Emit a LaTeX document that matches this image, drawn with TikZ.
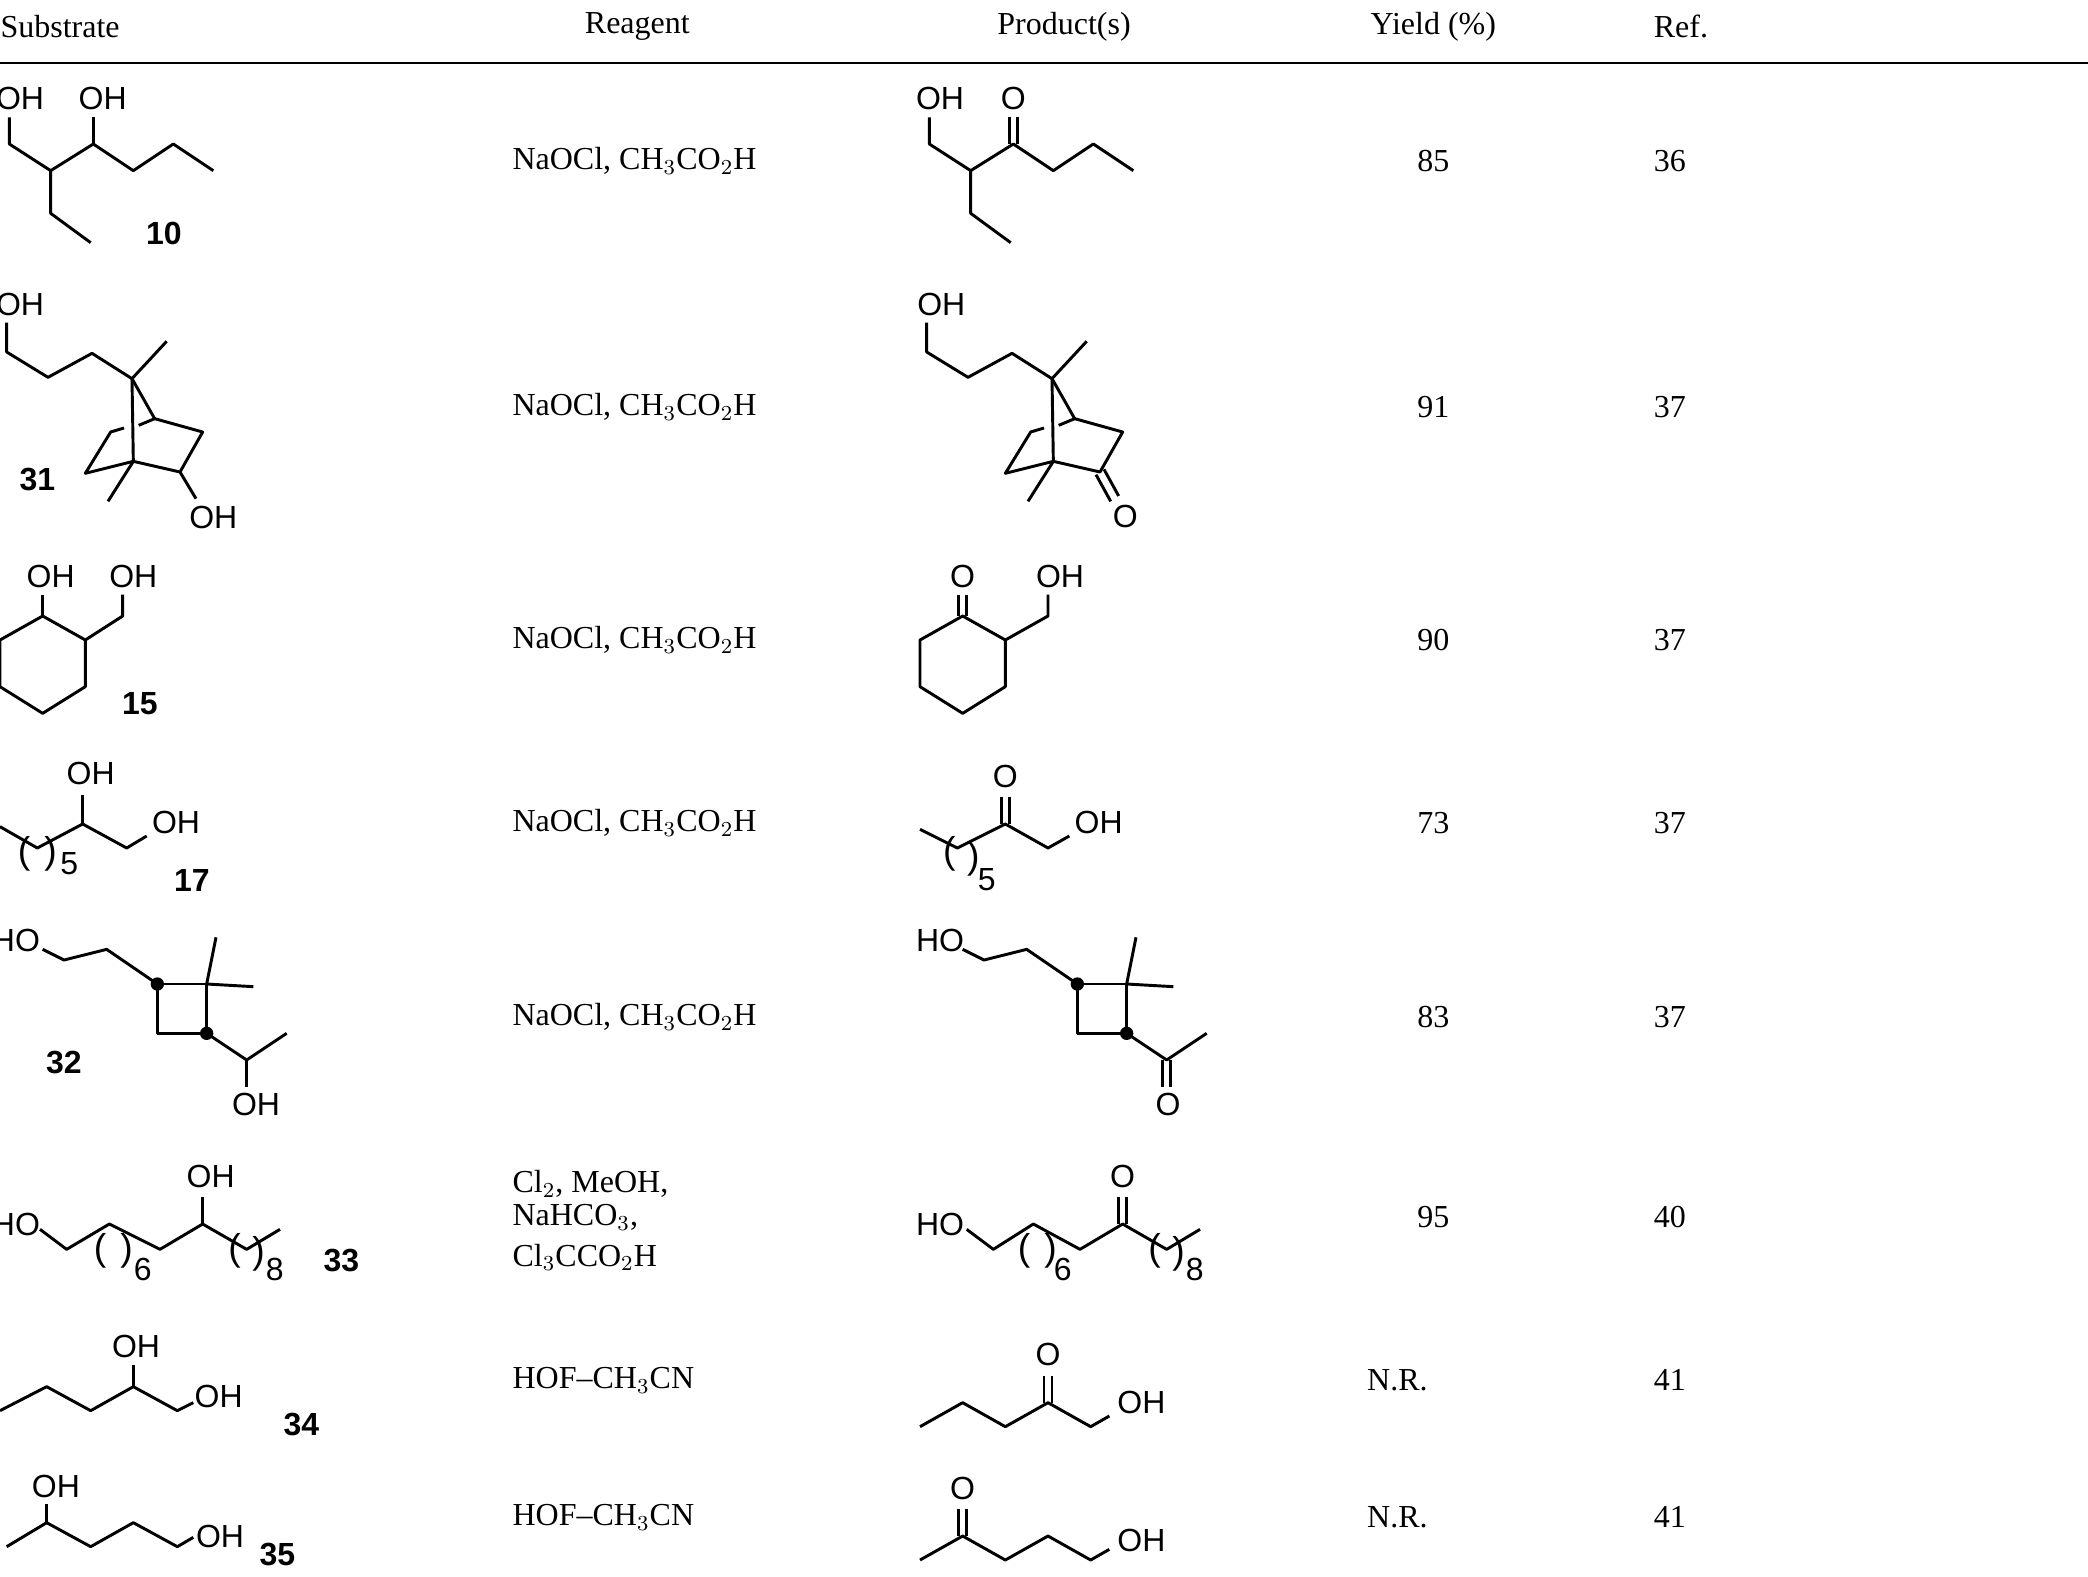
\documentclass[tikz,border=0pt]{standalone}
\usepackage{fontspec}
\setmainfont{Liberation Serif}
\newfontfamily\chem{Liberation Sans}
\begin{document}
\begin{tikzpicture}[x=0.5pt,y=-0.5pt,
  bd/.style={line width=1.1pt,line join=round},
  lab/.style={font=\chem\fontsize{12}{14}\selectfont,inner sep=0pt},
  num/.style={font=\chem\bfseries\fontsize{12}{14}\selectfont,inner sep=0pt},
  txt/.style={font=\fontsize{12}{14}\selectfont,inner sep=0pt},
  rg/.style={txt,anchor=west},
  par/.style={font=\chem\fontsize{14}{14}\selectfont,inner sep=0pt}]
\useasboundingbox (0,0) rectangle (1566,1182);
% header
\node[txt,anchor=west] (h1) at (0,20) {Substrate};
\node[txt] (h2) at (478,20) {Reagent};
\node[txt] (h3) at (798,20) {Product(s)};
\node[txt] (h4) at (1075,20) {Yield (\%)};
\node[txt,anchor=west] (h5) at (1240,20) {Ref.};
\draw[line width=0.8pt] (0,47) -- (1566,47);
% reagents, yields, refs
\foreach \y/\r/\yl/\rf in {121/{NaOCl, CH$_3$CO$_2$H}/85/36, 305/{NaOCl, CH$_3$CO$_2$H}/91/37, 480/{NaOCl, CH$_3$CO$_2$H}/90/37, 617/{NaOCl, CH$_3$CO$_2$H}/73/37, 763/{NaOCl, CH$_3$CO$_2$H}/83/37, 913/{}/95/40}{
  \node[rg] at (384,\y) {\r};
  \node[txt] at (1075,\y) {\yl};
  \node[rg] at (1240,\y) {\rf};}
\node[rg] (r6a) at (384,888) {Cl$_2$, MeOH,};
\node[rg] (r6b) at (384,913) {NaHCO$_3$,};
\node[rg] (r6c) at (384,943) {Cl$_3$CCO$_2$H};
\node[rg] (r7) at (384,1035) {HOF--CH$_3$CN};
\node[rg] (y7) at (1025,1035) {N.R.};
\node[rg] (f7) at (1240,1035) {41};
\node[rg] (r8) at (384,1138) {HOF--CH$_3$CN};
\node[rg] (y8) at (1025,1138) {N.R.};
\node[rg] (f8) at (1240,1138) {41};

% ===== Row 1 =====
\begin{scope}
\draw[bd] (7,88)--(7,108)--(38,128)--(70,108)--(100,128)--(130,108)--(160,128);
\draw[bd] (70,108)--(70,88); \draw[bd] (38,128)--(38,160)--(68,182);
\node[lab] at (15,74) {OH}; \node[lab] at (77,74) {OH};
\node[num] at (123,175) {10};
\end{scope}
\begin{scope}[xshift=345pt]
\draw[bd] (7,88)--(7,108)--(38,128)--(70,108)--(100,128)--(130,108)--(160,128);
\draw[bd] (67,108)--(67,88); \draw[bd] (73,108)--(73,88); \draw[bd] (38,128)--(38,160)--(68,182);
\node[lab] at (15,74) {OH}; \node[lab] at (70,74) {O};
\end{scope}

% ===== Row 2 =====
\begin{scope}
\draw[bd] (5,242)--(5,264)--(36,283)--(69,265)--(99,284)--(125,256);
\draw[bd] (99,284)--(100,346)--(81,376);
\draw[bd] (99,284)--(116,314)--(152,324)--(135,354)--(100,346);
\draw[bd] (100,346)--(64,355)--(83,324)--(93,321);
\draw[bd] (104,319)--(116,314);
\draw[bd] (135,354)--(147,374);
\node[lab] at (15,228) {OH}; \node[lab] at (160,388) {OH};
\node[num] at (28,360) {31};
\end{scope}
\begin{scope}[xshift=345pt]
\draw[bd] (5,242)--(5,264)--(36,283)--(69,265)--(99,284)--(125,256);
\draw[bd] (99,284)--(100,346)--(81,376);
\draw[bd] (99,284)--(116,314)--(152,324)--(135,354)--(100,346);
\draw[bd] (100,346)--(64,355)--(83,324)--(93,321);
\draw[bd] (104,319)--(116,314);
\draw[bd] (132,356)--(143,376); \draw[bd] (138,352)--(149,372);
\node[lab] at (16,228) {OH}; \node[lab] at (154,387) {O};
\end{scope}

% ===== Row 3 =====
\begin{scope}
\draw[bd] (0,480)--(32,462)--(64,480)--(64,515)--(32,535)--(0,515)--cycle;
\draw[bd] (32,462)--(32,446); \draw[bd] (64,480)--(92,462)--(92,446);
\node[lab] at (38,432) {OH}; \node[lab] at (100,432) {OH};
\node[num] at (105,528) {15};
\end{scope}
\begin{scope}[xshift=345pt]
\draw[bd] (0,480)--(32,462)--(64,480)--(64,515)--(32,535)--(0,515)--cycle;
\draw[bd] (29,462)--(29,446); \draw[bd] (35,462)--(35,446); \draw[bd] (64,480)--(96,462)--(96,446);
\node[lab] at (32,432) {O}; \node[lab] at (105,432) {OH};
\end{scope}

% ===== Row 4 =====
\draw[bd] (0,620)--(28,636)--(62,618)--(95,636)--(110,627);
\draw[bd] (62,618)--(62,596);
\node[lab] at (68,580) {OH}; \node[lab] at (132,617) {OH};
\node[par] at (18,640) {(}; \node[par] at (38,640) {)};
\node[lab] at (52,648) {5}; \node[num] at (144,660) {17};
\draw[bd] (690,622)--(718,636)--(754,618)--(786,636)--(802,627);
\draw[bd] (751,618)--(751,598); \draw[bd] (757,618)--(757,598);
\node[lab] at (754,582) {O}; \node[lab] at (824,617) {OH};
\node[par] at (712,640) {(}; \node[par] at (730,644) {)};
\node[lab] at (740,660) {5};

% ===== Row 5 =====
\begin{scope}
\draw[bd] (32,712)--(48,720)--(80,712)--(118,738);
\draw[bd] (118,738)--(155,738)--(155,775)--(118,775)--cycle;
\draw[bd] (155,738)--(162,703); \draw[bd] (155,738)--(190,740);
\draw[bd] (155,775)--(185,795)--(215,775); \draw[bd] (185,795)--(185,815);
\fill (118,738) circle (2.5pt); \fill (155,775) circle (2.5pt);
\node[lab] at (12,705) {HO}; \node[lab] at (192,828) {OH};
\node[num] at (48,797) {32};
\end{scope}
\begin{scope}[xshift=345pt]
\draw[bd] (32,712)--(48,720)--(80,712)--(118,738);
\draw[bd] (118,738)--(155,738)--(155,775)--(118,775)--cycle;
\draw[bd] (155,738)--(162,703); \draw[bd] (155,738)--(190,740);
\draw[bd] (155,775)--(185,795)--(215,775); \draw[bd] (182,795)--(182,815); \draw[bd] (188,795)--(188,815);
\fill (118,738) circle (2.5pt); \fill (155,775) circle (2.5pt);
\node[lab] at (15,705) {HO}; \node[lab] at (186,828) {O};
\end{scope}

% ===== Row 6 =====
\draw[bd] (30,922)--(50,937)--(82,918)--(120,937)--(152,918)--(185,937)--(210,922);
\draw[bd] (152,918)--(152,898);
\node[par] at (75,938) {(}; \node[par] at (95,938) {)};
\node[par] at (176,938) {(}; \node[par] at (194,940) {)};
\node[lab] at (12,918) {HO}; \node[lab] at (158,882) {OH};
\node[lab] at (107,952) {6}; \node[lab] at (206,952) {8};
\node[num] at (256,945) {33};
\draw[bd] (725,922)--(745,937)--(775,918)--(810,937)--(842,918)--(875,937)--(900,922);
\draw[bd] (839,918)--(839,898); \draw[bd] (845,918)--(845,898);
\node[par] at (768,938) {(}; \node[par] at (788,938) {)};
\node[par] at (866,938) {(}; \node[par] at (884,940) {)};
\node[lab] at (705,918) {HO}; \node[lab] at (842,882) {O};
\node[lab] at (797,952) {6}; \node[lab] at (896,952) {8};

% ===== Row 7 =====
\draw[bd] (0,1058)--(35,1040)--(68,1058)--(100,1040)--(133,1058)--(145,1052);
\draw[bd] (100,1040)--(100,1024);
\node[lab] at (102,1010) {OH}; \node[lab] at (164,1047) {OH};
\node[num] at (226,1068) {34};
\draw[bd] (690,1070)--(722,1052)--(754,1070)--(786,1052)--(818,1070)--(832,1062);
\draw[bd] (783,1052)--(783,1032); \draw[bd] (789,1052)--(789,1032);
\node[lab] at (786,1016) {O}; \node[lab] at (856,1052) {OH};

% ===== Row 8 =====
\draw[bd] (5,1160)--(35,1142)--(68,1160)--(100,1142)--(133,1160)--(145,1153);
\draw[bd] (35,1142)--(35,1128);
\node[lab] at (42,1115) {OH}; \node[lab] at (165,1152) {OH};
\node[num] at (208,1166) {35};
\draw[bd] (690,1170)--(722,1152)--(754,1170)--(786,1152)--(818,1170)--(832,1162);
\draw[bd] (719,1152)--(719,1132); \draw[bd] (725,1152)--(725,1132);
\node[lab] at (722,1116) {O}; \node[lab] at (856,1155) {OH};
\end{tikzpicture}
\end{document}
